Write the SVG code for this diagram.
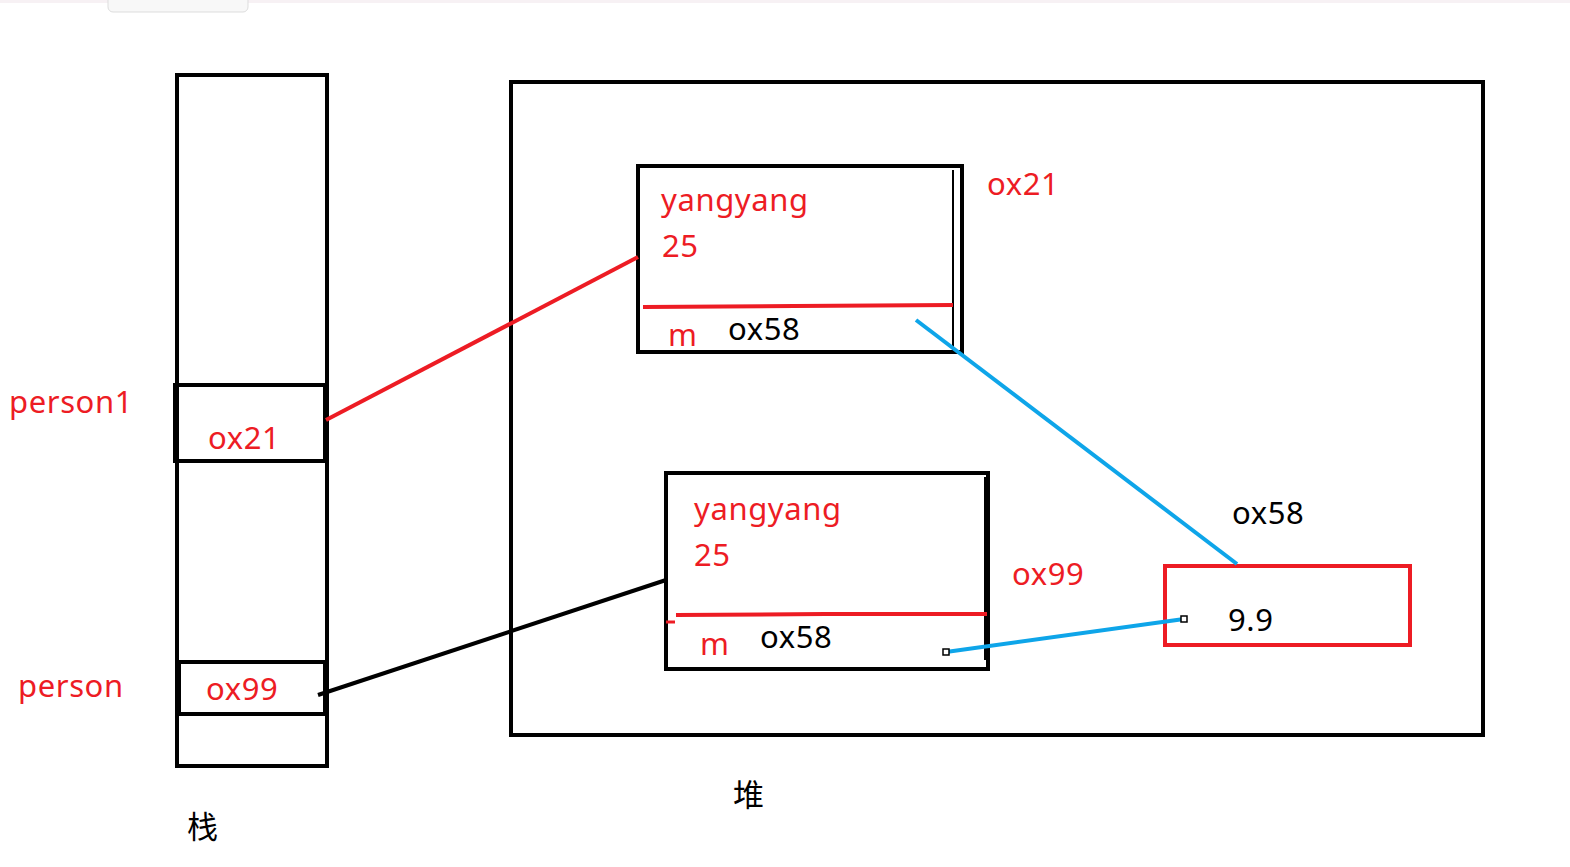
<svg xmlns="http://www.w3.org/2000/svg" width="1570" height="867" viewBox="0 0 1570 867">
<style>
.b{fill:none;stroke:#000;stroke-width:4}
.r{fill:none;stroke:#ed1c24;stroke-width:4}
.t{font-family:"Noto Sans","Noto Sans CJK SC",sans-serif;font-size:31px;letter-spacing:0.6px}
.red{fill:#ed1c24}.blk{fill:#000}
.h{fill:#fff;stroke:#000;stroke-width:1.5}
</style>
<rect width="1570" height="867" fill="#fff"/>
<rect x="0" y="0" width="1570" height="3" fill="#f7f1f4"/>
<rect x="108" y="-10" width="140" height="22" rx="5" fill="#f8f8f8" stroke="#ddd"/>
<g id="stack">
<rect class="b" x="177" y="75" width="150" height="691"/>
<rect class="b" x="175" y="385" width="150" height="76"/>
<rect class="b" x="179" y="662" width="146" height="52"/>
<text class="t red" x="208" y="449">ox21</text>
<text class="t red" x="206" y="700">ox99</text>
<text class="t red" x="9" y="413">person1</text>
<text class="t red" x="18" y="697">person</text>
<text class="t blk" x="187" y="838">栈</text>
</g>
<g id="heap">
<rect class="b" x="511" y="82" width="972" height="653"/>
<text class="t blk" x="733" y="806">堆</text>
</g>
<g id="obj1">
<rect class="b" x="638" y="166" width="324" height="186"/>
<line x1="953" y1="170" x2="953" y2="350" stroke="#000" stroke-width="2"/>
<path class="r" d="M643 307 L795 306 L953 305"/>
<text class="t red" x="661" y="211">yangyang</text>
<text class="t red" x="662" y="257">25</text>
<text class="t red" x="668" y="346">m</text>
<text class="t blk" x="728" y="340">ox58</text>
<text class="t red" x="987" y="195">ox21</text>
</g>
<g id="obj2">
<rect class="b" x="666" y="473" width="322" height="196"/>
<line x1="985" y1="477" x2="985" y2="660" stroke="#000" stroke-width="2"/>
<path class="r" d="M676 615 L825 614 L987 614"/>
<line x1="666" y1="622" x2="675" y2="622" stroke="#ed1c24" stroke-width="3"/>
<text class="t red" x="694" y="520">yangyang</text>
<text class="t red" x="694" y="566">25</text>
<text class="t red" x="700" y="655">m</text>
<text class="t blk" x="760" y="648">ox58</text>
<text class="t red" x="1012" y="585">ox99</text>
</g>
<g id="val">
<rect class="r" x="1165" y="566" width="245" height="79"/>
<text class="t blk" x="1228" y="631">9.9</text>
<text class="t blk" x="1232" y="524">ox58</text>
</g>
<g id="connectors">
<line x1="326" y1="420" x2="638" y2="257" stroke="#ed1c24" stroke-width="4"/>
<line x1="318" y1="695" x2="666" y2="580" stroke="#000" stroke-width="4"/>
<line x1="916" y1="320" x2="1237" y2="564" stroke="#0ea5e9" stroke-width="4"/>
<line x1="946" y1="652" x2="1184" y2="619" stroke="#0ea5e9" stroke-width="4"/>
<rect class="h" x="943" y="649" width="6" height="6"/>
<rect class="h" x="1181" y="616" width="6" height="6"/>
</g>
</svg>
